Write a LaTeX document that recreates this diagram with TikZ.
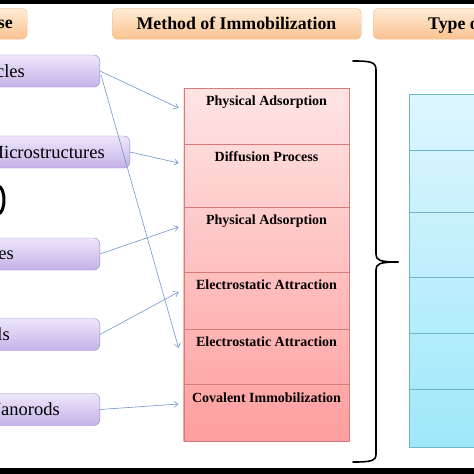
\documentclass[tikz,border=0pt]{standalone}
\usepackage{fontspec}
\setmainfont{Liberation Serif}
\usepackage{tikz}
\usetikzlibrary{arrows.meta}
\usetikzlibrary{calc}
\usetikzlibrary{backgrounds}

\definecolor{headtop}{RGB}{255,236,214}
\definecolor{headbot}{RGB}{250,194,144}
\definecolor{headline}{RGB}{236,188,146}
\definecolor{purptop}{RGB}{238,230,251}
\definecolor{purpbot}{RGB}{196,178,232}
\definecolor{purpline}{RGB}{158,138,200}
\definecolor{pinktop}{RGB}{255,228,228}
\definecolor{pinkbot}{RGB}{255,158,158}
\definecolor{pinkline}{RGB}{214,122,122}
\definecolor{bluetop}{RGB}{222,246,253}
\definecolor{bluebot}{RGB}{158,232,250}
\definecolor{blueline}{RGB}{112,180,200}
\definecolor{arrowblue}{RGB}{112,150,200}

\begin{document}
\begin{tikzpicture}[x=1pt,y=1pt,yscale=-1,
  headbox/.style={draw=headline,top color=headtop,bottom color=headbot,rounded corners=5pt,minimum height=31pt,inner sep=0pt},
  headtext/.style={inner sep=0pt,font=\rmfamily\fontsize{17.8}{20}\selectfont\bfseries},
  purpbox/.style={draw=purpline,top color=purptop,bottom color=purpbot,rounded corners=6pt,minimum height=32pt,inner sep=0pt},
  purptext/.style={inner sep=0pt,font=\rmfamily\fontsize{18.5}{21}\selectfont},
  pinkrow/.style={draw=pinkline,line width=0.8pt,minimum width=165pt,inner sep=0pt},
  bluerow/.style={draw=blueline,line width=0.8pt,minimum width=131pt,inner sep=0pt},
  celltext/.style={inner sep=0pt,font=\rmfamily\fontsize{14}{16}\selectfont\bfseries},
  link/.style={draw=arrowblue,line width=0.6pt,-{Straight Barb[length=4pt,width=6pt]}},
  bracestyle/.style={line width=1.6pt,line cap=round}]
\useasboundingbox (0,0) rectangle (474,474);
\clip (0,0) rectangle (474,474);
\fill[black] (0,0) rectangle (474,4);
\fill[black] (0,468) rectangle (474,474);

% headers
\node[headbox,minimum width=127pt,anchor=north west] (h1) at (-100,8) {};
\node[headtext,anchor=base east] (h1t) at (13,28) {se};
\node[headbox,minimum width=249pt,anchor=north west] (h2) at (112,8) {};
\node[headtext,anchor=base] (h2t) at (236.5,29) {Method of Immobilization};
\node[headbox,minimum width=180pt,anchor=north west] (h3) at (373,8) {};
\node[headtext,anchor=base west] (h3t) at (428,29) {Type o};

% left boxes
\node[purpbox,minimum width=170pt,anchor=east] (p1) at (100,71) {};
\node[purptext,anchor=base east] (p1t) at (25,77) {cles};
\node[purpbox,minimum width=200pt,anchor=east] (p2) at (130,152) {};
\node[purptext,anchor=base east] (p2t) at (105,158) {Microstructures};
\node[purpbox,minimum width=170pt,anchor=east] (p3) at (100,254) {};
\node[purptext,anchor=base east] (p3t) at (14,259) {es};
\node[purpbox,minimum width=170pt,anchor=east] (p4) at (100,334.5) {};
\node[purptext,anchor=base east] (p4t) at (10,340) {ls};
\node[purpbox,minimum width=170pt,anchor=east] (p5) at (100,409.5) {};
\node[purptext,anchor=base east] (p5t) at (60,415) {Nanorods};
\draw[line width=3pt] (-2,200) ellipse [x radius=6, y radius=14];

% method column
\node[pinkrow,minimum height=56pt,anchor=north] (r1) at (266.5,88) {};
\node[pinkrow,minimum height=63pt,anchor=north] (r2) at (266.5,144) {};
\node[pinkrow,minimum height=65pt,anchor=north] (r3) at (266.5,207) {};
\node[pinkrow,minimum height=57pt,anchor=north] (r4) at (266.5,272) {};
\node[pinkrow,minimum height=55pt,anchor=north] (r5) at (266.5,329) {};
\node[pinkrow,minimum height=57pt,anchor=north] (r6) at (266.5,384) {};
\begin{scope}[on background layer]
\shade[top color=pinktop,bottom color=pinkbot] (r1.north west) rectangle (r6.south east);
\end{scope}
\node[celltext,anchor=base] (t1) at (266.5,105) {Physical Adsorption};
\node[celltext,anchor=base] (t2) at (266.5,161) {Diffusion Process};
\node[celltext,anchor=base] (t3) at (266.5,224) {Physical Adsorption};
\node[celltext,anchor=base] (t4) at (266.5,289) {Electrostatic Attraction};
\node[celltext,anchor=base] (t5) at (266.5,346) {Electrostatic Attraction};
\node[celltext,anchor=base] (t6) at (266.5,402) {Covalent Immobilization};

% links
\draw[link] (p1.east) -- ($(r1.north west)+(-5,20)$);
\draw[link] ($(p1.east)+(1,4)$) -- ($(r5.north west)+(-5,19)$);
\draw[link] (p2.east) -- ($(r2.north west)+(-5,19)$);
\draw[link] (p3.east) -- ($(r3.north west)+(-5,20)$);
\draw[link] (p4.east) -- ($(r4.north west)+(-5,20)$);
\draw[link] (p5.east) -- ($(r6.north west)+(-5,20)$);

% brace
\draw[bracestyle] (353,61) .. controls (371,61) and (376,62) .. (376,70) -- (376,254)
  .. controls (376,260) and (379,262) .. (398,262);
\draw[bracestyle] (398,262) .. controls (379,262) and (376,264) .. (376,270) -- (376,454)
  .. controls (376,461) and (371,462) .. (353,462);

% type column
\node[bluerow,minimum height=56pt,anchor=north west] (b1) at (409,94) {};
\node[bluerow,minimum height=62pt,anchor=north west] (b2) at (409,150) {};
\node[bluerow,minimum height=65pt,anchor=north west] (b3) at (409,212) {};
\node[bluerow,minimum height=56pt,anchor=north west] (b4) at (409,277) {};
\node[bluerow,minimum height=56pt,anchor=north west] (b5) at (409,333) {};
\node[bluerow,minimum height=58pt,anchor=north west] (b6) at (409,389) {};
\begin{scope}[on background layer]
\shade[top color=bluetop,bottom color=bluebot] (b1.north west) rectangle (b6.south east);
\end{scope}
\end{tikzpicture}
\end{document}
